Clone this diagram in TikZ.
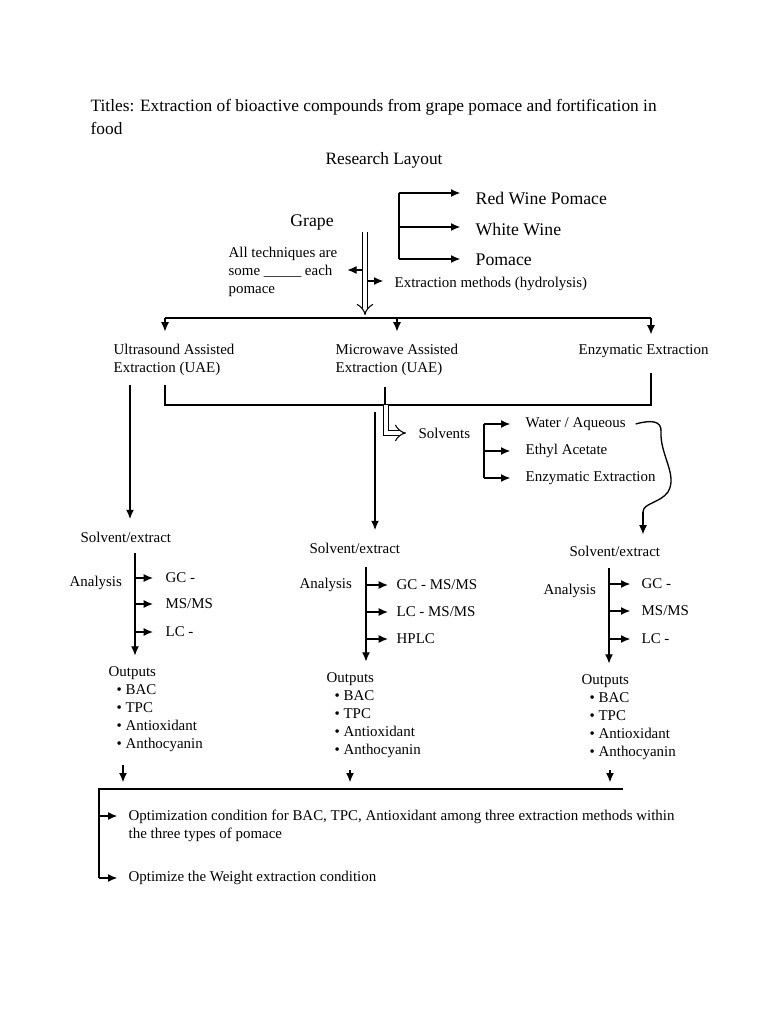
\documentclass[tikz,border=0pt]{standalone}
\usepackage{fontspec}
\setmainfont{Liberation Serif}
\usetikzlibrary{arrows.meta,positioning,calc}

\begin{document}
\begin{tikzpicture}[x=0.75pt, y=-0.75pt, line width=1pt,
  >={Latex[length=7pt,width=6pt]},
  lbl/.style={inner sep=0pt, anchor=west, align=left, font=\fontsize{11.2}{13.5}\selectfont},
  sml/.style={lbl, font=\fontsize{11.2}{13.5}\selectfont},
  lrg/.style={lbl, font=\fontsize{13.3}{16}\selectfont},
  ttl/.style={lbl, font=\fontsize{13}{17.25}\selectfont},
  tip/.style={->, shorten >=#1},
  hollow/.style={double, double distance=3.6pt, line width=0.8pt, -{Implies[length=5pt]}}]
  \fill[white] (0,0) rectangle (768,1024);
  \useasboundingbox (0,0) rectangle (768,1024);

  % heading
  \node[ttl] (Title) at (90,116.5) {Titles: Extraction of bioactive compounds from grape pomace and fortification in\\food};
  \node[ttl, anchor=center] (Layout) at (384,160) {Research Layout};

  % grape and pomace types
  \node[lrg, anchor=center] (Grape) at (312,223) {Grape};
  \node[lrg] (RedWine) at (475,198) {Red Wine Pomace};
  \node[lrg] (WhiteWine) at (475,229) {White Wine};
  \node[lrg] (Pomace) at (475,260) {Pomace};
  \node[sml] (Tech) at (228,272) {All techniques are\\some \_\_\_\_\_ each\\pomace};
  \node[lbl] (Hydro) at (394,284) {Extraction methods (hydrolysis)};

  \coordinate (PomTop) at (399,193);
  \coordinate (PomMid) at (399,227);
  \coordinate (PomBot) at (399,259);
  \draw (PomTop) -- (PomBot);
  \draw[tip=11pt] (PomTop) -- (PomTop -| RedWine.west);
  \draw[tip=11pt] (PomMid) -- (PomMid -| WhiteWine.west);
  \draw[tip=11pt] (PomBot) -- (PomBot -| Pomace.west);

  \coordinate (GrTop) at (365,232);
  \coordinate (GrBot) at (365,315);
  \draw[hollow] (GrTop) -- (GrBot);
  \coordinate (TechFrom) at (362,270);
  \coordinate (HydroFrom) at (368,281);
  \draw[tip=7pt] (TechFrom) -- (TechFrom -| Tech.east);
  \draw[tip=8pt] (HydroFrom) -- (HydroFrom -| Hydro.west);

  % three extraction methods
  \node[lbl] (UAE) at (113,360) {Ultrasound Assisted\\Extraction (UAE)};
  \node[lbl] (MAE) at (335,360) {Microwave Assisted\\Extraction (UAE)};
  \node[lbl] (EAE) at (578,351) {Enzymatic Extraction};
  \coordinate (S1L) at (165,318);
  \coordinate (S1M) at (397,318);
  \coordinate (S1R) at (651,318);
  \draw (S1L) -- (S1R);
  \draw[tip=9pt] (S1L) -- (S1L |- UAE.north);
  \draw[tip=9pt] (S1M) -- (S1M |- MAE.north);
  \draw[tip=7pt] (S1R) -- (S1R |- EAE.north);

  \coordinate (B2L) at (165,385);
  \coordinate (B2M) at (385,387);
  \coordinate (B2R) at (651,373);
  \coordinate (B2LB) at (165,405);
  \coordinate (B2RB) at (651,405);
  \draw (B2L) -- (B2LB) -- (B2RB) -- (B2R);
  \draw (B2M) -- (B2M |- B2LB);

  % solvents
  \node[lbl] (Solvents) at (418,433) {Solvents};
  \node[lbl] (Water) at (525,424) {Water / Aqueous};
  \node[lbl] (Ethyl) at (525,451) {Ethyl Acetate};
  \node[lbl] (EnzS) at (525,478) {Enzymatic Extraction};
  \coordinate (SvTop) at (386,405);
  \draw[hollow, shorten >=9pt] (SvTop) |- (Solvents.west);
  \coordinate (SvBrTop) at (484,424);
  \coordinate (SvBrBot) at (484,478);
  \draw (SvBrTop) -- (SvBrBot);
  \foreach \n in {Water,Ethyl,EnzS}
    \draw[tip=11pt] (\n.west -| SvBrTop) -- (\n.west);

  % solvent/extract of each method
  \node[lbl] (SolA) at (80,537) {Solvent/extract};
  \node[lbl] (SolB) at (309,548) {Solvent/extract};
  \node[lbl] (SolC) at (569,551) {Solvent/extract};
  \coordinate (ColATop) at (130,385);
  \coordinate (ColBTop) at (375,412);
  \draw[tip=9pt] (ColATop) -- (ColATop |- SolA.north);
  \draw[tip=9pt] (ColBTop) -- (ColBTop |- SolB.north);
  \coordinate (CurveEnd) at (643,512);
  \draw ([xshift=7pt]Water.east) .. controls (650,420) and (662,420) .. (661,432)
    .. controls (660,455) and (678,475) .. (668,492)
    .. controls (660,503) and (643,503) .. (CurveEnd);
  \draw[tip=8pt] (CurveEnd) -- (CurveEnd |- SolC.north);

  % column A
  \node[lbl] (AnaA) at (69,583) {Analysis};
  \node[lbl] (GcA) at (165,578) {GC -};
  \node[lbl] (MsA) at (165,604) {MS/MS};
  \node[lbl] (LcA) at (165,632) {LC -};
  \node[lbl] (OutA) at (108,709.5) {Outputs\\\hspace*{6pt}\textbullet\ BAC\\\hspace*{6pt}\textbullet\ TPC\\\hspace*{6pt}\textbullet\ Antioxidant\\\hspace*{6pt}\textbullet\ Anthocyanin};
  \coordinate (ColA) at (135,553);
  \draw[tip=8pt] (ColA) -- (ColA |- OutA.north);
  \foreach \n in {GcA,MsA,LcA}
    \draw[tip=9pt] (\n.west -| ColA) -- (\n.west);

  % column B
  \node[lbl] (AnaB) at (299,585) {Analysis};
  \node[lbl] (GcB) at (396,585) {GC - MS/MS};
  \node[lbl] (LcB) at (396,612) {LC - MS/MS};
  \node[lbl] (Hplc) at (396,639) {HPLC};
  \node[lbl] (OutB) at (326,715.5) {Outputs\\\hspace*{6pt}\textbullet\ BAC\\\hspace*{6pt}\textbullet\ TPC\\\hspace*{6pt}\textbullet\ Antioxidant\\\hspace*{6pt}\textbullet\ Anthocyanin};
  \coordinate (ColB) at (366,567);
  \draw[tip=8pt] (ColB) -- (ColB |- OutB.north);
  \foreach \n in {GcB,LcB,Hplc}
    \draw[tip=6pt] (\n.west -| ColB) -- (\n.west);

  % column C
  \node[lbl] (AnaC) at (543,591) {Analysis};
  \node[lbl] (GcC) at (641,584) {GC -};
  \node[lbl] (MsC) at (641,611) {MS/MS};
  \node[lbl] (LcC) at (641,639) {LC -};
  \node[lbl] (OutC) at (581,717.5) {Outputs\\\hspace*{6pt}\textbullet\ BAC\\\hspace*{6pt}\textbullet\ TPC\\\hspace*{6pt}\textbullet\ Antioxidant\\\hspace*{6pt}\textbullet\ Anthocyanin};
  \coordinate (ColC) at (609,568);
  \draw[tip=8pt] (ColC) -- (ColC |- OutC.north);
  \foreach \n in {GcC,MsC,LcC}
    \draw[tip=8pt] (\n.west -| ColC) -- (\n.west);

  % optimization
  \node[lbl] (Opt1) at (128,826) {Optimization condition for BAC, TPC, Antioxidant among three extraction methods within\\the three types of pomace};
  \node[lbl] (Opt2) at (128,878) {Optimize the Weight extraction condition};
  \coordinate (BotL) at (99,789);
  \coordinate (BotR) at (623,789);
  \coordinate (DnA) at (123,765);
  \coordinate (DnB) at (350,770);
  \coordinate (DnC) at (610,770);
  \foreach \c in {DnA,DnB,DnC}
    \draw[tip=5pt] (\c) -- (\c |- BotL);
  \draw (BotR) -- (BotL) -- (BotL |- Opt2.west);
  \coordinate (Opt1From) at (99,816);
  \draw[tip=8pt] (Opt1From) -- (Opt1From -| Opt1.west);
  \draw[tip=8pt] (Opt2.west -| BotL) -- (Opt2.west);
\end{tikzpicture}
\end{document}
